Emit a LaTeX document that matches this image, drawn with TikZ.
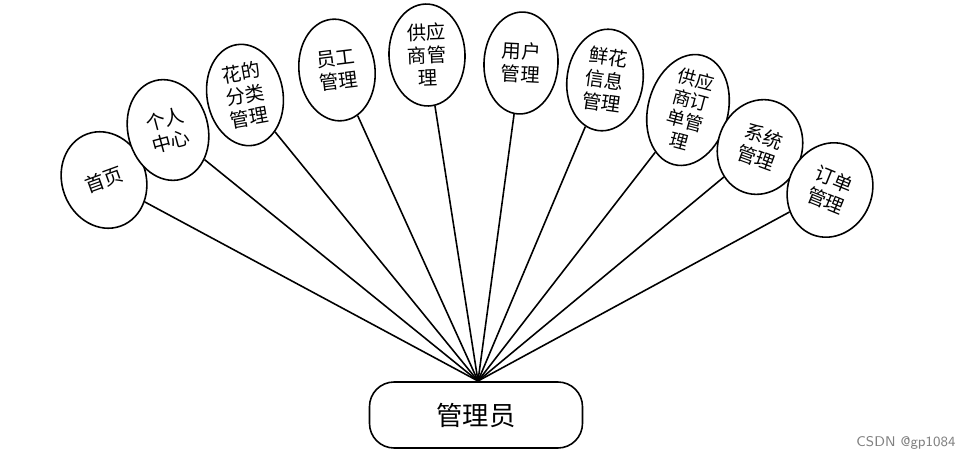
\documentclass[tikz,border=0pt]{standalone}
\usepackage{fontspec}
\newfontfamily\cjk{Noto Sans CJK SC}
\usetikzlibrary{shapes.geometric}
\begin{document}
\begin{tikzpicture}[x=0.02cm,y=-0.02cm,
  el/.style={draw,line width=0.9pt,ellipse,inner sep=0pt,minimum width=80*0.02cm,minimum height=102*0.02cm,font=\cjk\fontsize{11}{13}\selectfont,align=center,fill=white},
  ln/.style={line width=0.9pt}]
\useasboundingbox (0,0) rectangle (964,460);
\coordinate (hub) at (478,381);
\node[draw,line width=0.9pt,rounded corners=14pt,minimum width=213*0.02cm,minimum height=66*0.02cm,font=\cjk\fontsize{15}{17}\selectfont] (adm) at (476,415) {管理员};
\node[el,rotate=20,minimum width=84*0.02cm,minimum height=98*0.02cm] (a) at (104,180) {首页};
\node[el,rotate=15] (b) at (168,130) {个人\\中心};
\node[el,rotate=10,minimum width=76*0.02cm] (c) at (245,95) {花的\\分类\\管理};
\node[el,rotate=7,minimum width=76*0.02cm] (d) at (337,70) {员工\\管理};
\node[el,rotate=2,minimum width=76*0.02cm] (e) at (427,55) {供应\\商管\\理};
\node[el,rotate=-3,minimum width=74*0.02cm] (f) at (521,63) {用户\\管理};
\node[el,rotate=-8,minimum width=76*0.02cm] (g) at (605,80) {鲜花\\信息\\管理};
\node[el,rotate=-15,font=\cjk\fontsize{10.5}{12}\selectfont] (h) at (688,110) {供应\\商订\\单管\\理};
\node[el,rotate=-20,minimum width=84*0.02cm,minimum height=96*0.02cm] (i) at (760,147) {系统\\管理};
\node[el,rotate=-22,minimum width=84*0.02cm,minimum height=96*0.02cm] (j) at (830,190) {订单\\管理};
\foreach \n in {a,b,c,d,e,f,g,h,i,j} \draw[ln] (\n) -- (hub);
\node[font=\sffamily\fontsize{8}{9}\selectfont,text=gray] (wm) at (906,443) {CSDN @gp1084};
\end{tikzpicture}
\end{document}
